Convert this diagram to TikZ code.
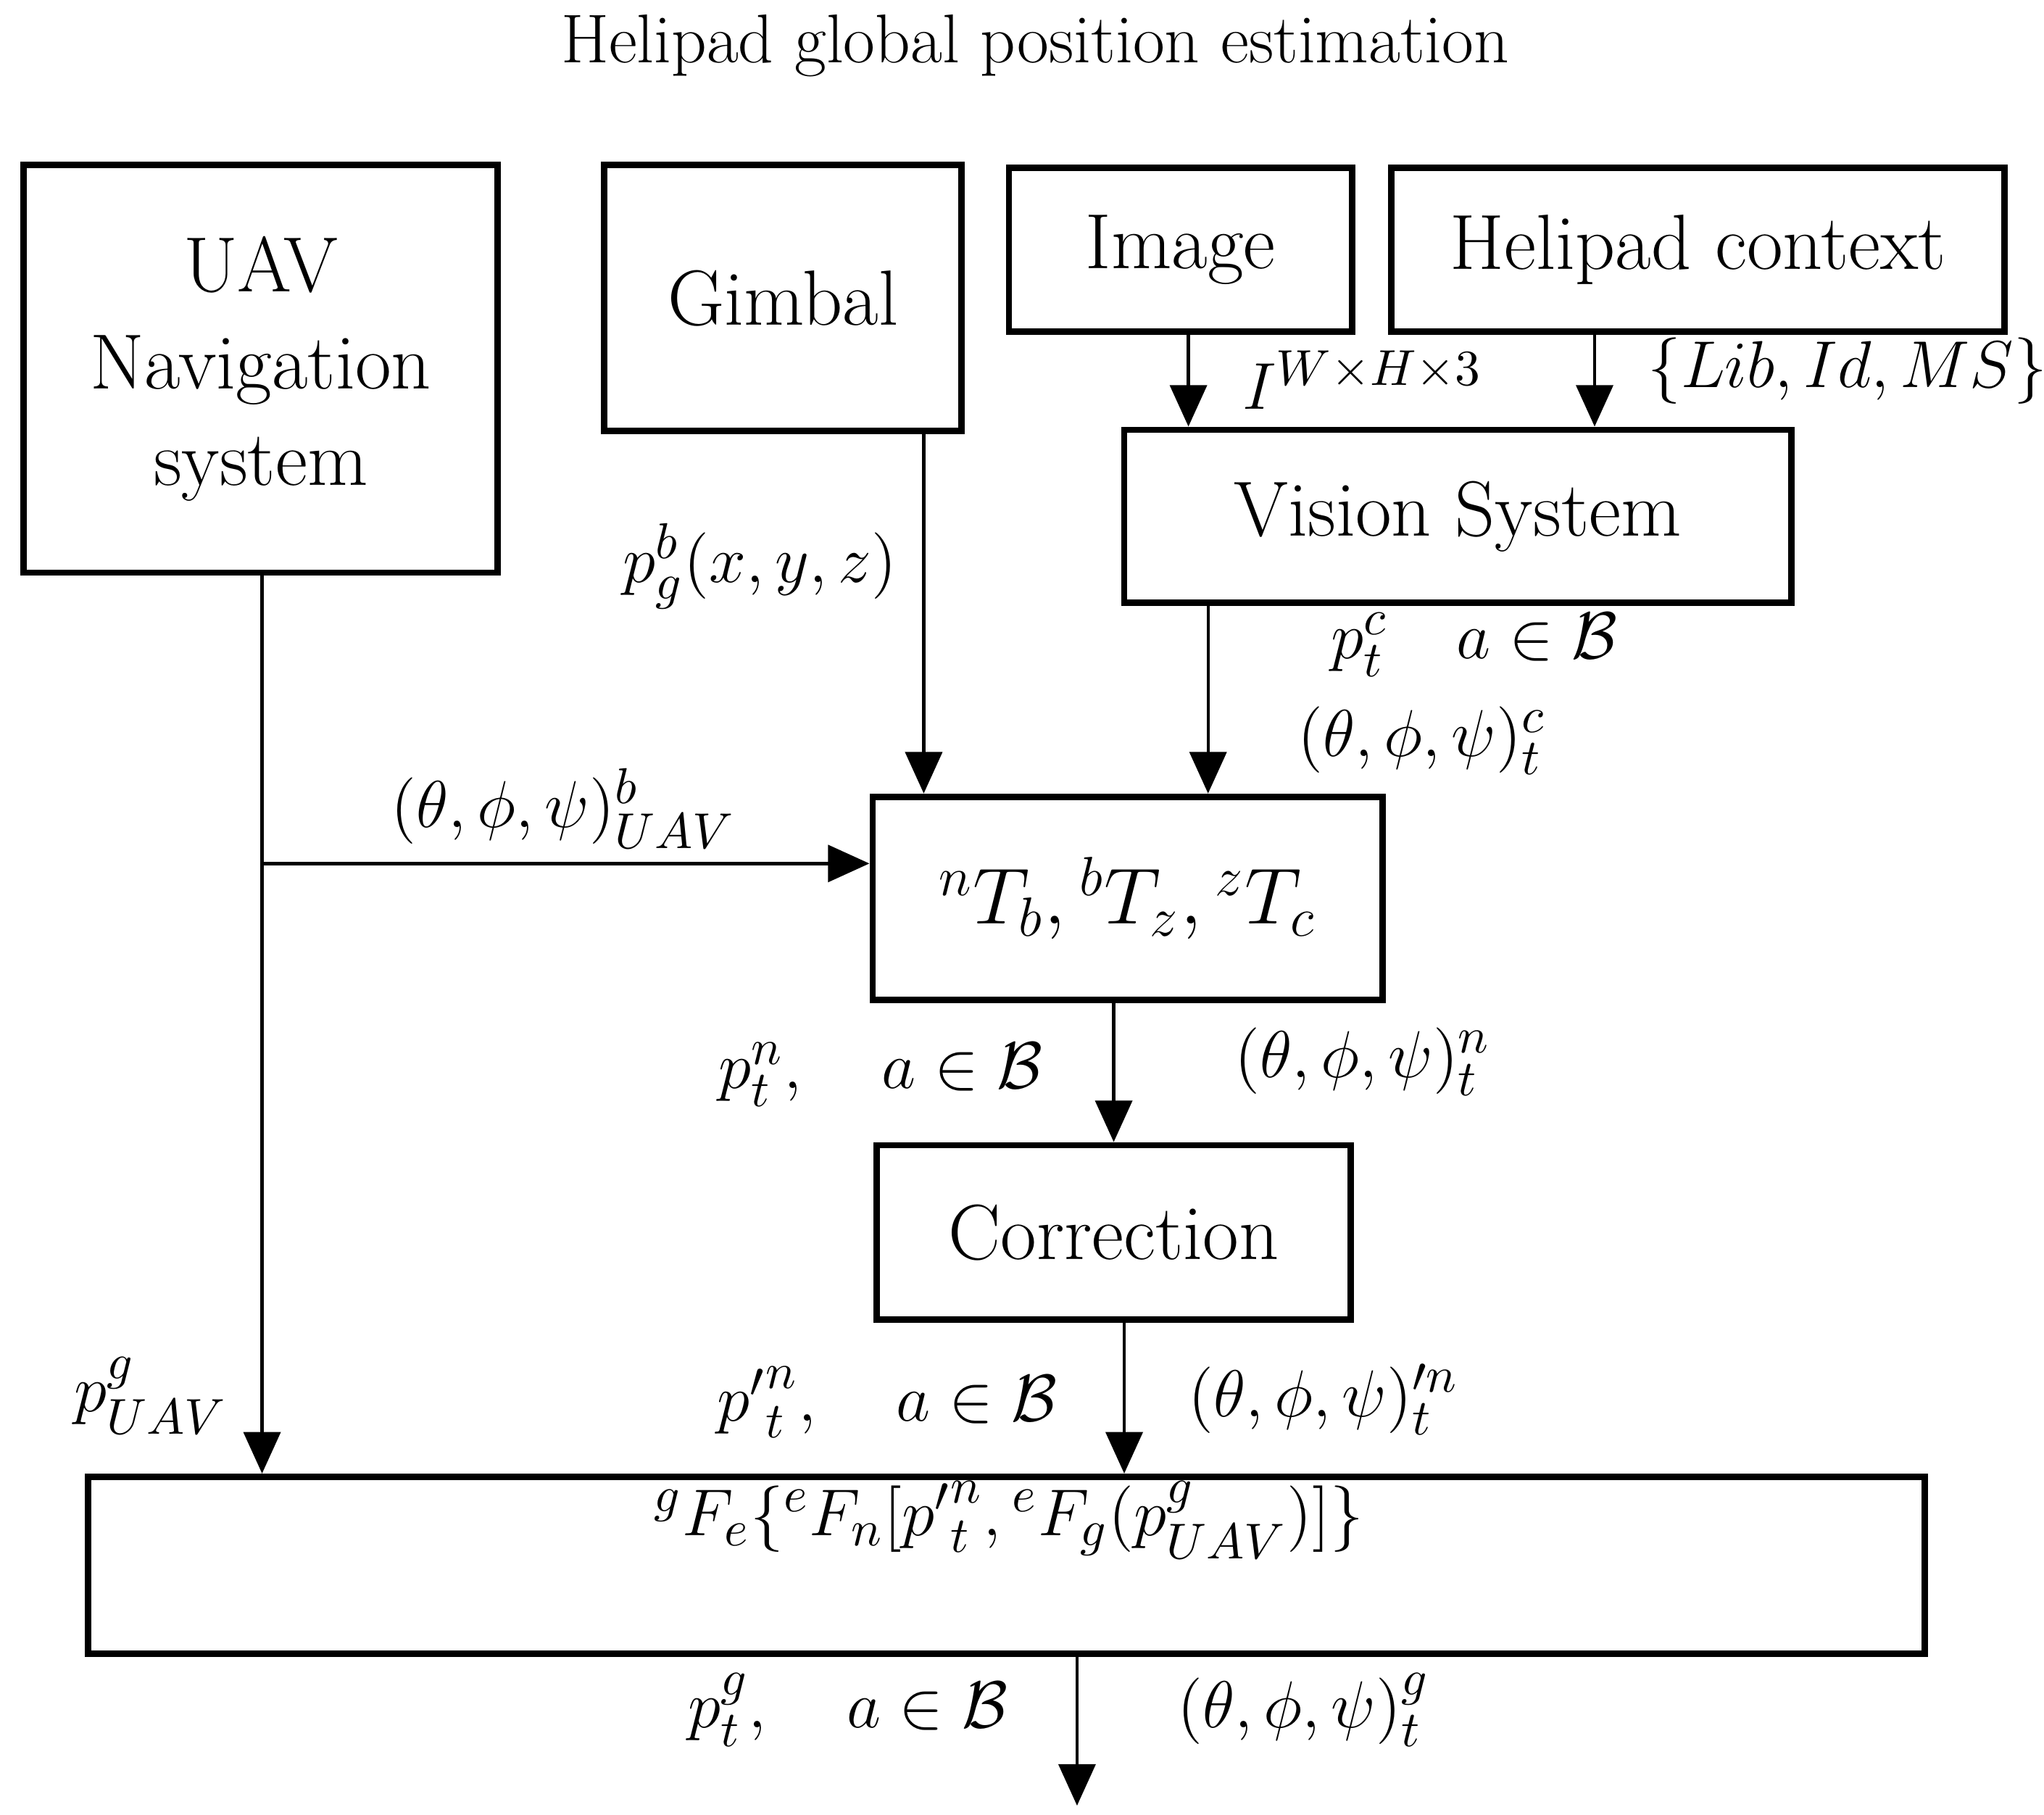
\documentclass[tikz,border=0pt]{standalone}
\usepackage{amsmath,amssymb}
\usetikzlibrary{arrows.meta}
\begin{document}
\begin{tikzpicture}[x=1cm,y=-1cm,
 box/.style={draw,line width=1.4pt,inner sep=0pt,align=center,font=\fontsize{17}{21}\selectfont},
 arr/.style={line width=0.7pt,-{Triangle[length=9pt,width=8pt]}},
 lab/.style={font=\fontsize{15}{18}\selectfont,inner sep=0pt}]
\useasboundingbox (0,0) rectangle (15.6,13.85);
\node[font=\fontsize{15}{17}\selectfont] (title) at (7.9,0.35) {Helipad global position estimation};
\node[box,minimum width=3.62cm,minimum height=3.11cm] (uav) at (1.99,2.815) {UAV\\Navigation\\system};
\node[box,minimum width=2.73cm,minimum height=2.03cm] (gim) at (5.975,2.275) {Gimbal};
\node[box,minimum width=2.62cm,minimum height=1.25cm] (img) at (9.01,1.905) {Image};
\node[box,minimum width=4.68cm,minimum height=1.25cm] (ctx) at (12.96,1.905) {Helipad context};
\node[box,minimum width=5.09cm,minimum height=1.32cm] (vis) at (11.125,3.94) {Vision System};
\node[box,minimum width=3.89cm,minimum height=1.55cm] (tr) at (8.605,6.855) {$^{n}T_b,{}^{b}T_z,{}^{z}T_c$};
\node[box,minimum width=3.62cm,minimum height=1.33cm] (cor) at (8.5,9.405) {Correction};
\node[box,minimum width=14.02cm,minimum height=1.35cm] (fus) at (7.68,11.945) {};
\node[lab] (ff) at (7.7,11.6) {$^{g}F_e\{{}^{e}F_n[{p'}^{n}_t,{}^{e}F_g(p^{g}_{UAV})]\}$};
\coordinate (out) at (8.22,13.78);
\coordinate (br) at (2.0,6.59);
% arrows
\draw[arr] (img.south -| 9.07,0) -- (vis.north -| 9.07,0);
\draw[arr] (ctx.south -| 12.17,0) -- (vis.north -| 12.17,0);
\draw[arr] (gim.south -| 7.05,0) -- (tr.north -| 7.05,0);
\draw[arr] (vis.south -| 9.22,0) -- (tr.north -| 9.22,0);
\draw[arr] (uav.south -| 2.0,0) -- (fus.north -| 2.0,0);
\draw[arr] (br) -- (tr.west |- br);
\draw[arr] (tr.south -| 8.5,0) -- (cor.north -| 8.5,0);
\draw[arr] (cor.south -| 8.58,0) -- (fus.north -| 8.58,0);
\draw[arr] (fus.south -| 8.22,0) -- (out);
% labels
\node[lab] (l1) at (10.4,2.9) {$I^{W\times H\times 3}$};
\node[lab] (l2) at (14.1,2.83) {$\{Lib,Id,MS\}$};
\node[lab] (l3) at (5.8,4.32) {$p^{b}_{g}(x,y,z)$};
\node[lab] (l4) at (11.25,4.92) {$p^{c}_{t}\quad a\in\mathcal{B}$};
\node[lab] (l5) at (10.85,5.65) {$(\theta,\phi,\psi)^{c}_{t}$};
\node[lab] (l6) at (4.3,6.17) {$(\theta,\phi,\psi)^{b}_{UAV}$};
\node[lab] (l7) at (6.72,8.2) {$p^{n}_{t},\quad a\in\mathcal{B}$};
\node[lab] (l8) at (10.4,8.1) {$(\theta,\phi,\psi)^{n}_{t}$};
\node[lab] (l9) at (6.77,10.7) {${p'}^{n}_{t},\quad a\in\mathcal{B}$};
\node[lab] (l10) at (10.1,10.68) {$(\theta,\phi,\psi)'^{n}_{t}$};
\node[lab] (l11) at (1.15,10.65) {$p^{g}_{UAV}$};
\node[lab] (l12) at (6.47,13.05) {$p^{g}_{t},\quad a\in\mathcal{B}$};
\node[lab] (l13) at (9.95,13.05) {$(\theta,\phi,\psi)^{g}_{t}$};
\end{tikzpicture}
\end{document}
